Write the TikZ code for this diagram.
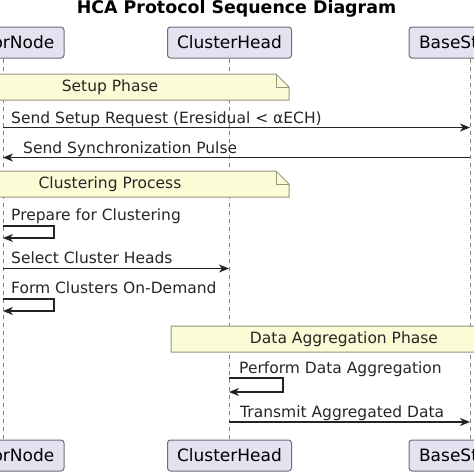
\documentclass[tikz,border=0pt]{standalone}
\usepackage{fontspec}
\setmainfont{DejaVu Sans}
\usetikzlibrary{arrows.meta}
\definecolor{partfill}{RGB}{226,226,240}
\definecolor{partline}{RGB}{110,110,118}
\definecolor{notefill}{RGB}{251,251,214}
\definecolor{noteline}{RGB}{150,150,130}
\definecolor{msgline}{RGB}{35,35,35}
\definecolor{lifeline}{RGB}{130,130,130}
\begin{document}
\begin{tikzpicture}[x=1pt,y=-1pt,
  part/.style={draw=partline,fill=partfill,rounded corners=3pt,line width=1pt,
    minimum width=122pt,minimum height=31pt,inner sep=0pt,
    font=\fontsize{17}{20}\selectfont},
  life/.style={draw=lifeline,dash pattern=on 4pt off 4pt,line width=0.8pt},
  msg/.style={draw=msgline,line width=1.2pt,-{Stealth[length=10pt,width=8pt,inset=3pt]}},
  lbl/.style={font=\fontsize{15.5}{18}\selectfont,inner sep=0pt,anchor=base west,text=black!85},
  notetxt/.style={font=\fontsize{15.5}{18}\selectfont,inner sep=0pt,anchor=center,text=black!85},
  notebox/.style={draw=noteline,fill=notefill,line width=1pt,line join=miter},
  ttl/.style={font=\fontsize{17.4}{20}\selectfont\bfseries,inner sep=0pt,anchor=base}]
\useasboundingbox (0,0) rectangle (474,474);
\begin{scope}
\clip (0,0) rectangle (474,474);
\fill[white] (0,0) rectangle (474,474);

\node[ttl] (title) at (236.5,13.5) {HCA Protocol Sequence Diagram};

% participants
\node[part] (snT) at (3,42.5) {SensorNode};
\node[part,minimum width=124pt] (chT) at (229.5,42.5) {ClusterHead};
\node[part] (bsT) at (470,42.5) {BaseStation};
\node[part] (snB) at (3,455.5) {SensorNode};
\node[part,minimum width=124pt] (chB) at (229.5,455.5) {ClusterHead};
\node[part] (bsB) at (470,455.5) {BaseStation};

% lifelines
\draw[life] (snT.south) -- (snB.north);
\draw[life] (chT.south -| 229,0) coordinate (chTs) -- (chB.north -| 229,0);
\draw[life] (bsT.south) -- (bsB.north);

% notes
\draw[notebox] (-69,74) -- (276,74) -- (289,87) -- (289,100) -- (-69,100) -- cycle;
\draw[noteline,line width=1pt] (276,74) -- (276,87) -- (289,87);
\node[notetxt] (n1) at (110,87.5) {Setup Phase};

\draw[notebox] (-69,171) -- (276,171) -- (289,184) -- (289,197) -- (-69,197) -- cycle;
\draw[noteline,line width=1pt] (276,171) -- (276,184) -- (289,184);
\node[notetxt] (n2) at (110,184.5) {Clustering Process};

\draw[notebox] (171,326) -- (504,326) -- (517,339) -- (517,352) -- (171,352) -- cycle;
\node[notetxt] (n3) at (344,339.5) {Data Aggregation Phase};

% coordinates on lifelines
\coordinate (sn1) at (3,127.5);   \coordinate (bs1) at (470,127.5);
\coordinate (sn2) at (3,157.5);   \coordinate (bs2) at (470,157.5);
\coordinate (sn3a) at (3,226);    \coordinate (sn3b) at (3,238);
\coordinate (sn4) at (3,268.5);   \coordinate (ch4) at (229,268.5);
\coordinate (sn5a) at (3,299);    \coordinate (sn5b) at (3,311);
\coordinate (ch6a) at (229,378);  \coordinate (ch6b) at (229,392);
\coordinate (ch7) at (229,422);   \coordinate (bs7) at (470,422);

% messages
\draw[msg] (sn1) -- (bs1);
\node[lbl] (m1) at (11,123.3) {Send Setup Request (Eresidual < αECH)};

\draw[msg] (bs2) -- (sn2);
\node[lbl] (m2) at (23,153.3) {Send Synchronization Pulse};

\draw[msg] (sn3a) -- (54,226) -- (54,238) -- (sn3b);
\node[lbl] (m3) at (11,220.5) {Prepare for Clustering};

\draw[msg] (sn4) -- (ch4);
\node[lbl] (m4) at (11,263.5) {Select Cluster Heads};

\draw[msg] (sn5a) -- (54,299) -- (54,311) -- (sn5b);
\node[lbl] (m5) at (11,293.5) {Form Clusters On-Demand};

\draw[msg] (ch6a) -- (283,378) -- (283,392) -- (ch6b);
\node[lbl] (m6) at (239,373.5) {Perform Data Aggregation};

\draw[msg] (ch7) -- (bs7);
\node[lbl] (m7) at (240,417.5) {Transmit Aggregated Data};
\end{scope}
\end{tikzpicture}
\end{document}
